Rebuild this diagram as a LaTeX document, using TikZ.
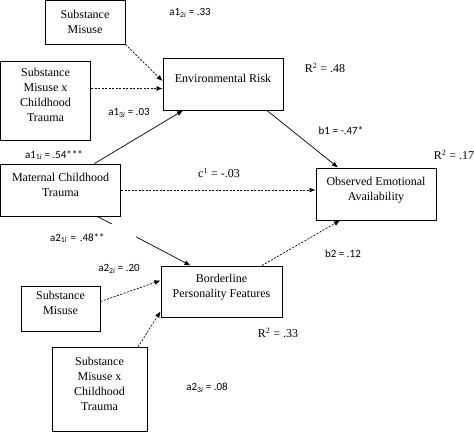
\documentclass[tikz,border=0pt]{standalone}
\usepackage{fontspec}
\setmainfont{Liberation Serif}
\newfontfamily\lblfont{Carlito}
\usetikzlibrary{arrows.meta}
\newcommand{\lowpad}{\rule[-11pt]{0pt}{0pt}}
\tikzset{
	VB/.style={draw,line width=1pt,inner sep=0pt,align=center,font=\fontsize{12}{15}\selectfont}
}
\tikzset{
	PA/.style={line width=0.7pt,-{Latex[length=6pt,width=5pt]}},
	PD/.style={PA,dash pattern=on 2pt off 1.5pt}
}
\tikzset{
	LB/.style={inner sep=1pt,font=\lblfont\fontsize{11}{13}\selectfont},
	LR/.style={inner sep=1pt,font=\fontsize{12}{14}\selectfont}
}

\begin{document}
\begin{tikzpicture}[x=1pt,y=-1pt]
		\useasboundingbox (0,0) rectangle (474,432);
		% boxes
		\node[VB,minimum width=80pt,minimum height=44pt] (sma) at (85,22) {Substance\\Misuse};
		\node[VB,minimum width=90pt,minimum height=79pt] (smcta) at (45.5,100.5) {Substance\\Misuse x\\Childhood\\Trauma\lowpad};
		\node[VB,minimum width=120pt,minimum height=52pt] (env) at (223,84) {Environmental Risk\lowpad};
		\node[VB,minimum width=120pt,minimum height=52pt] (mct) at (60.5,190) {Maternal Childhood\\Trauma\lowpad};
		\node[VB,minimum width=120pt,minimum height=52pt] (oea) at (376,194) {Observed Emotional\\Availability\lowpad};
		\node[VB,minimum width=121pt,minimum height=51pt] (bpf) at (221.5,291.5) {Borderline\\Personality Features\lowpad};
		\node[VB,minimum width=79pt,minimum height=45pt] (smb) at (60.5,308.5) {Substance\\Misuse\lowpad};
		\node[VB,minimum width=95pt,minimum height=84pt] (smctb) at (99.5,389.5) {Substance\\Misuse x\\Childhood\\Trauma\lowpad};
		% paths
		\draw[PD] (sma.south east) -- ([yshift=3pt]env.west);
		\draw[PD] ([yshift=12pt]smcta.east) -- ([yshift=12pt]smcta.east -| env.west);
		\draw[PA] ([xshift=34pt]mct.north) -- ([xshift=-40pt]env.south);
		\draw[PA] ([xshift=44pt]env.south) -- ([xshift=-38pt]oea.north);
		\draw[PD] (mct.east) -- (mct.east -| oea.west);
		\draw[PA] ([xshift=37pt]mct.south) -- ([xshift=-31pt]bpf.north);
		\draw[PD] ([yshift=7pt]smb.east) -- ([yshift=11pt]bpf.west);
		\draw[PD] ([xshift=38.5pt]smctb.north) -- ([yshift=-20pt]bpf.west);
		\draw[PD] ([xshift=40.5pt]bpf.north) -- ([xshift=-36pt]oea.south);
		% coefficients
		\node[LB] (a12) at (190,13) {a1\textsubscript{2\textit{i}} = .33};
		\node[LR] (r48) at (325,68) {R\textsuperscript{2} = .48};
		\node[LB] (a13) at (129,113) {a1\textsubscript{3\textit{i}} = .03};
		\node[LB] (a11) at (54,155) {a1\textsubscript{1\textit{i}} = .54***};
		\node[LB] (b1) at (341,131) {b1 = -.47*};
		\node[LR] (r17) at (454,155) {R\textsuperscript{2} = .17};
		\node[LR] (c1) at (219,173) {c\textsuperscript{1} = -.03};
		\node[LB,fill=white,inner xsep=2pt,text width=84pt,align=left,minimum height=28pt] (a21) at (92,238) {a2\textsubscript{1\textit{i}} = .48**};
		\node[LB] (a22) at (119,269) {a2\textsubscript{2\textit{i}} = .20};
		\node[LB] (b2) at (343,254) {b2 = .12};
		\node[LR] (r33) at (278,333) {R\textsuperscript{2} = .33};
		\node[LB] (a23) at (207,388) {a2\textsubscript{3\textit{i}} = .08};
	\end{tikzpicture}
\end{document}
